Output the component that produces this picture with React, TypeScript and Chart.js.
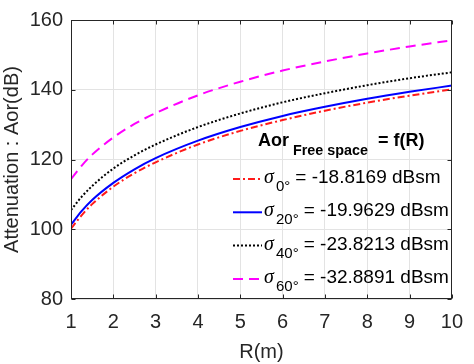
import React, { useEffect, useRef } from 'react';
import { Chart, registerables } from 'chart.js';
Chart.register(...registerables);

const rValues = [1, 1.25, 1.5, 2, 2.5, 3, 4, 5, 6, 7, 8, 9, 10];
const aor0 = [100.2, 104.0, 107.2, 112.2, 116.1, 119.2, 124.3, 128.2, 131.3, 134.0, 136.3, 138.3, 140.1];
const aor20 = [101.3, 105.2, 108.4, 113.3, 117.2, 120.4, 125.4, 129.3, 132.5, 135.1, 137.4, 139.4, 141.2];
const aor40 = [105.5, 109.3, 112.4, 117.4, 121.2, 124.3, 129.3, 133.2, 136.4, 139.0, 141.3, 143.3, 145.0];
const aor60 = [114.4, 118.2, 121.4, 126.3, 130.2, 133.3, 138.4, 142.3, 145.5, 148.1, 150.4, 152.4, 154.2];

const angleLabels = ['0°', '20°', '40°', '60°'];
const rcsLabels = ['= -18.8169 dBsm', '= -19.9629 dBsm', '= -23.8213 dBsm', '= -32.8891 dBsm'];
const legendTitle = ['Aor', 'Free space', '= f(R)'];

const seriesColors = ['#ff1a1a', '#0000ff', '#000000', '#ff00ff'];
const seriesDashes: number[][] = [[7, 3, 2, 3], [], [2, 2], [10, 6]];

const FONT = '"Liberation Sans", Arial, Helvetica, sans-serif';
const AXIS = '#262626';

export default function App() {
  const ref = useRef<HTMLCanvasElement>(null);
  useEffect(() => {
    const decor = {
      id: 'decor',
      afterDatasetsDraw(chart: any) {
        const { ctx, chartArea: a, scales } = chart;
        ctx.save();
        // box
        ctx.strokeStyle = AXIS;
        ctx.lineWidth = 1;
        ctx.setLineDash([]);
        const L = Math.round(a.left) + 0.5, T = Math.round(a.top) + 0.5;
        const Rr = Math.round(a.right) - 0.5, B = Math.round(a.bottom) - 0.5;
        ctx.strokeRect(L, T, Rr - L, B - T);
        // inward ticks
        ctx.beginPath();
        scales.x.ticks.forEach((t: any) => {
          const x = Math.round(scales.x.getPixelForValue(t.value)) + 0.5;
          ctx.moveTo(x, B); ctx.lineTo(x, B - 4);
          ctx.moveTo(x, T); ctx.lineTo(x, T + 4);
        });
        scales.y.ticks.forEach((t: any) => {
          const y = Math.round(scales.y.getPixelForValue(t.value)) + 0.5;
          ctx.moveTo(L, y); ctx.lineTo(L + 4, y);
          ctx.moveTo(Rr, y); ctx.lineTo(Rr - 4, y);
        });
        ctx.stroke();

        // legend title
        ctx.fillStyle = '#000';
        ctx.textBaseline = 'alphabetic';
        ctx.textAlign = 'left';
        ctx.font = 'bold 18px ' + FONT;
        ctx.fillText(legendTitle[0], 258, 146);
        ctx.font = 'bold 15px ' + FONT;
        ctx.fillText(legendTitle[1], 293, 155, 75);
        ctx.font = 'bold 18px ' + FONT;
        ctx.fillText(legendTitle[2], 378, 146);

        // legend items
        for (let i = 0; i < 4; i++) {
          const ly = 179 + i * 33.3;
          ctx.strokeStyle = seriesColors[i];
          ctx.lineWidth = 2;
          ctx.setLineDash(seriesDashes[i]);
          ctx.beginPath();
          ctx.moveTo(233, ly);
          ctx.lineTo(262, ly);
          ctx.stroke();
          ctx.setLineDash([]);
          const base = ly + 4;
          ctx.fillStyle = '#000';
          ctx.font = 'italic 20px "Liberation Serif", "Times New Roman", serif';
          ctx.fillText('σ', 264, base);
          ctx.font = '15px ' + FONT;
          ctx.fillText(angleLabels[i], 276, base + 8);
          const sx = 276 + ctx.measureText(angleLabels[i]).width + 5;
          ctx.font = '19px ' + FONT;
          ctx.fillText(rcsLabels[i], sx, base);
        }
        ctx.restore();
      },
    };

    const mk = (label: string, data: number[], i: number) => ({
      label,
      data: rValues.map((r, k) => ({ x: r, y: data[k] })),
      borderColor: seriesColors[i],
      backgroundColor: seriesColors[i],
      borderWidth: 2,
      borderDash: seriesDashes[i],
      pointRadius: 0,
      fill: false,
      cubicInterpolationMode: 'monotone' as const,
    });

    const chart = new Chart(ref.current as HTMLCanvasElement, {
      type: 'line',
      data: {
        datasets: [
          mk('σ0°', aor0, 0),
          mk('σ20°', aor20, 1),
          mk('σ40°', aor40, 2),
          mk('σ60°', aor60, 3),
        ],
      },
      options: {
        responsive: false,
        animation: false,
        layout: { padding: { top: 7, right: 12, left: 0, bottom: 0 } },
        plugins: { legend: { display: false }, tooltip: { enabled: false } },
        scales: {
          x: {
            type: 'linear',
            min: 1,
            max: 10,
            ticks: { stepSize: 1, color: AXIS, font: { family: FONT, size: 20 }, padding: 11, maxRotation: 0 },
            grid: { color: '#e3e3e3', drawTicks: false },
            border: { display: false },
            title: { display: true, text: 'R(m)', color: AXIS, font: { family: FONT, size: 20 }, padding: 0 },
            afterFit: (s: any) => { s.height = 65; },
          },
          y: {
            min: 80,
            max: 160,
            ticks: { stepSize: 20, color: AXIS, font: { family: FONT, size: 20 }, padding: 8 },
            grid: { color: '#e3e3e3', drawTicks: false },
            border: { display: false },
            title: { display: true, text: 'Attenuation : Aor(dB)', color: AXIS, font: { family: FONT, size: 20 }, padding: 0 },
            afterFit: (s: any) => { s.width = 71; },
          },
        },
      },
      plugins: [decor],
    });
    return () => chart.destroy();
  }, []);
  return (
    <div style={{ position: 'fixed', left: 0, top: 0, width: 474, height: 364, background: '#fff' }}>
      <canvas ref={ref} width={474} height={364} style={{ display: 'block', width: 474, height: 364 }} />
    </div>
  );
}
